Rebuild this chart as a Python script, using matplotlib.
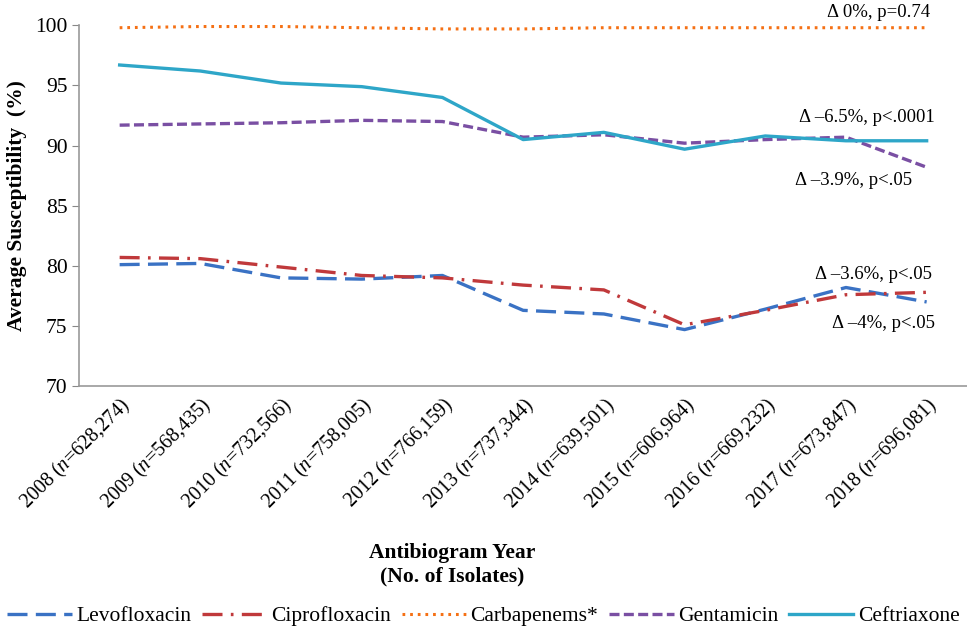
import matplotlib

matplotlib.use("Agg")
import matplotlib.pyplot as plt

plt.rcParams["font.family"] = "serif"
plt.rcParams["font.serif"] = ["Liberation Serif", "DejaVu Serif"]
plt.rcParams["mathtext.fontset"] = "custom"
plt.rcParams["mathtext.it"] = "Liberation Serif:italic"
plt.rcParams["mathtext.rm"] = "Liberation Serif"

years = ["2008", "2009", "2010", "2011", "2012", "2013", "2014", "2015", "2016", "2017", "2018"]
isolates = ["628,274", "568,435", "732,566", "758,005", "766,159", "737,344",
            "639,501", "606,964", "669,232", "673,847", "696,081"]

levofloxacin = [80.1, 80.2, 79.0, 78.9, 79.2, 76.3, 76.0, 74.7, 76.4, 78.2, 77.0]
ciprofloxacin = [80.7, 80.6, 79.9, 79.2, 79.0, 78.4, 78.0, 75.1, 76.3, 77.6, 77.8]
carbapenems = [99.8, 99.9, 99.9, 99.8, 99.7, 99.7, 99.8, 99.8, 99.8, 99.8, 99.8]
gentamicin = [91.7, 91.8, 91.9, 92.1, 92.0, 90.7, 90.9, 90.2, 90.5, 90.7, 88.2]
ceftriaxone = [96.7, 96.2, 95.2, 94.9, 94.0, 90.5, 91.1, 89.7, 90.8, 90.4, 90.4]

tick_labels = [f"{y} ($\\it{{n}}$={n})" for y, n in zip(years, isolates)]

fig = plt.figure(figsize=(9.67, 6.33), dpi=100)
ax = fig.add_axes([0.082, 0.39, 0.918, 0.57])
x = list(range(len(years)))

lw = 2.4
ax.plot(x, levofloxacin, color="#3A72C4", lw=lw, linestyle=(0, (6, 2.5)), label="Levofloxacin")
ax.plot(x, ciprofloxacin, color="#C0393B", lw=lw, linestyle=(0, (6, 2.5, 0.8, 2.5)), label="Ciprofloxacin")
ax.plot(x, carbapenems, color="#F57014", lw=2.2, linestyle=(0, (0.9, 1.6)), label="Carbapenems*")
ax.plot(x, gentamicin, color="#7A4FA3", lw=lw, linestyle=(0, (3, 1.3)), label="Gentamicin")
ax.plot(x, ceftriaxone, color="#2EA6C8", lw=lw, label="Ceftriaxone")

ax.set_xlim(-0.5, 10.5)
ax.set_ylim(70, 100)
ax.set_yticks(range(70, 101, 5))
ax.set_xticks(x)
ax.set_xticklabels(tick_labels, rotation=45, ha="right", rotation_mode="anchor", fontsize=14.5)
ax.tick_params(axis="y", labelsize=15.5, colors="#888888", labelcolor="black", length=5)
ax.tick_params(axis="x", length=0, pad=6)
for side in ("top", "right"):
    ax.spines[side].set_visible(False)
for side in ("left", "bottom"):
    ax.spines[side].set_color("#999999")
    ax.spines[side].set_linewidth(1.2)

ax.set_ylabel("Average Susceptibility  (%)", fontsize=15.5, fontweight="bold", labelpad=6)
fig.text(0.468, 0.108, "Antibiogram Year\n(No. of Isolates)", ha="center", va="center",
         fontsize=15.5, fontweight="bold", linespacing=1.25)

notes = [
    (9.4, 101.05, "\u0394 0%, p=0.74"),
    (9.26, 92.3, "\u0394 \u20136.5%, p<.0001"),
    (9.09, 87.1, "\u0394 \u20133.9%, p<.05"),
    (9.34, 79.3, "\u0394 \u20133.6%, p<.05"),
    (9.46, 75.2, "\u0394 \u20134%, p<.05"),
]
for nx, ny, txt in notes:
    ax.text(nx, ny, txt, ha="center", va="center", fontsize=13.5, clip_on=False)

fig.legend(loc="lower center", bbox_to_anchor=(0.5, -0.02), ncol=5, frameon=False,
           fontsize=15.5, handlelength=3.0, handletextpad=0.2, columnspacing=0.5)

fig.savefig("out.png", dpi=100)
